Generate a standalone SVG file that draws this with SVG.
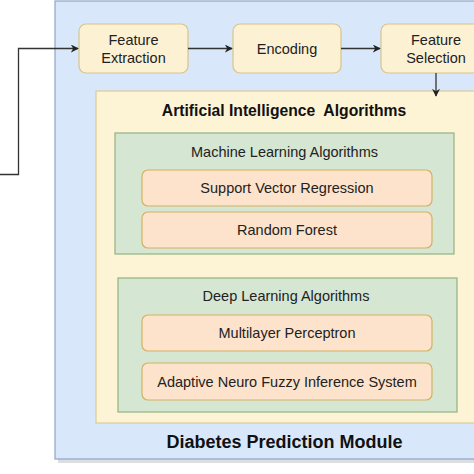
<svg xmlns="http://www.w3.org/2000/svg" width="474" height="474" viewBox="0 0 474 474">
<defs>
<marker id="arr" viewBox="0 0 10 10" refX="9" refY="5" markerWidth="8" markerHeight="8" markerUnits="userSpaceOnUse" orient="auto">
<path d="M0,0 L10,5 L0,10 L3,5 Z" fill="#222"/>
</marker>
</defs>
<style>
.t{font-family:"Liberation Sans",Arial,sans-serif;font-size:14.5px;fill:#222;text-anchor:middle}
.b{font-family:"Liberation Sans",Arial,sans-serif;font-weight:bold;fill:#111;text-anchor:middle}
.step{fill:#fdf1d3;stroke:#d8c48a;stroke-width:1.2}
.alg{fill:#fde3cb;stroke:#d3b262;stroke-width:1.2}
.grp{fill:#d5e6d3;stroke:#93b283;stroke-width:1.2}
.con{fill:none;stroke:#333;stroke-width:1.3}
</style>
<rect width="474" height="474" fill="#ffffff"/>
<g id="module">
<rect x="58" y="5" width="460" height="458" fill="#9aa3ad" opacity="0.35"/>
<rect x="55" y="1" width="460" height="458" fill="#d9e7fb" stroke="#8ea6c4" stroke-width="1.2"/>
<text class="b" x="284.5" y="448" font-size="18">Diabetes Prediction Module</text>
</g>
<g id="fe">
<rect class="step" x="79" y="24" width="109" height="49" rx="7"/>
<text class="t" x="133.5" y="45">Feature</text>
<text class="t" x="133.5" y="63">Extraction</text>
</g>
<g id="enc">
<rect class="step" x="233" y="24" width="108" height="49" rx="7"/>
<text class="t" x="287" y="53.5">Encoding</text>
</g>
<g id="fs">
<rect class="step" x="381" y="24" width="110" height="49" rx="7"/>
<text class="t" x="436" y="45">Feature</text>
<text class="t" x="436" y="63">Selection</text>
</g>
<g id="ai">
<rect x="96" y="91" width="400" height="332" fill="#fdf3d5" stroke="#dccb98" stroke-width="1.2"/>
<text class="b" x="284" y="115.5" font-size="15.7" xml:space="preserve">Artificial Intelligence  Algorithms</text>
</g>
<g id="ml">
<rect class="grp" x="115" y="133" width="339" height="121"/>
<text class="t" x="284.5" y="157">Machine Learning Algorithms</text>
</g>
<g id="svr">
<rect class="alg" x="142" y="170" width="290" height="36" rx="6"/>
<text class="t" x="287" y="193">Support Vector Regression</text>
</g>
<g id="rf">
<rect class="alg" x="142" y="212" width="290" height="36" rx="6"/>
<text class="t" x="287" y="235">Random Forest</text>
</g>
<g id="dl">
<rect class="grp" x="118" y="278" width="339" height="134"/>
<text class="t" x="286" y="301">Deep Learning Algorithms</text>
</g>
<g id="mlp">
<rect class="alg" x="142" y="315" width="290" height="36" rx="6"/>
<text class="t" x="287" y="338">Multilayer Perceptron</text>
</g>
<g id="anfis">
<rect class="alg" x="142" y="363" width="290" height="37" rx="6"/>
<text class="t" x="287" y="386.5">Adaptive Neuro Fuzzy Inference System</text>
</g>
<g id="connectors">
<path class="con" d="M0,174.5 H18.5 V48.5 H78" marker-end="url(#arr)"/>
<path class="con" d="M188,48.5 H232" marker-end="url(#arr)"/>
<path class="con" d="M341,48.5 H380" marker-end="url(#arr)"/>
<path class="con" d="M436,73 V96" marker-end="url(#arr)"/>
</g>
</svg>
